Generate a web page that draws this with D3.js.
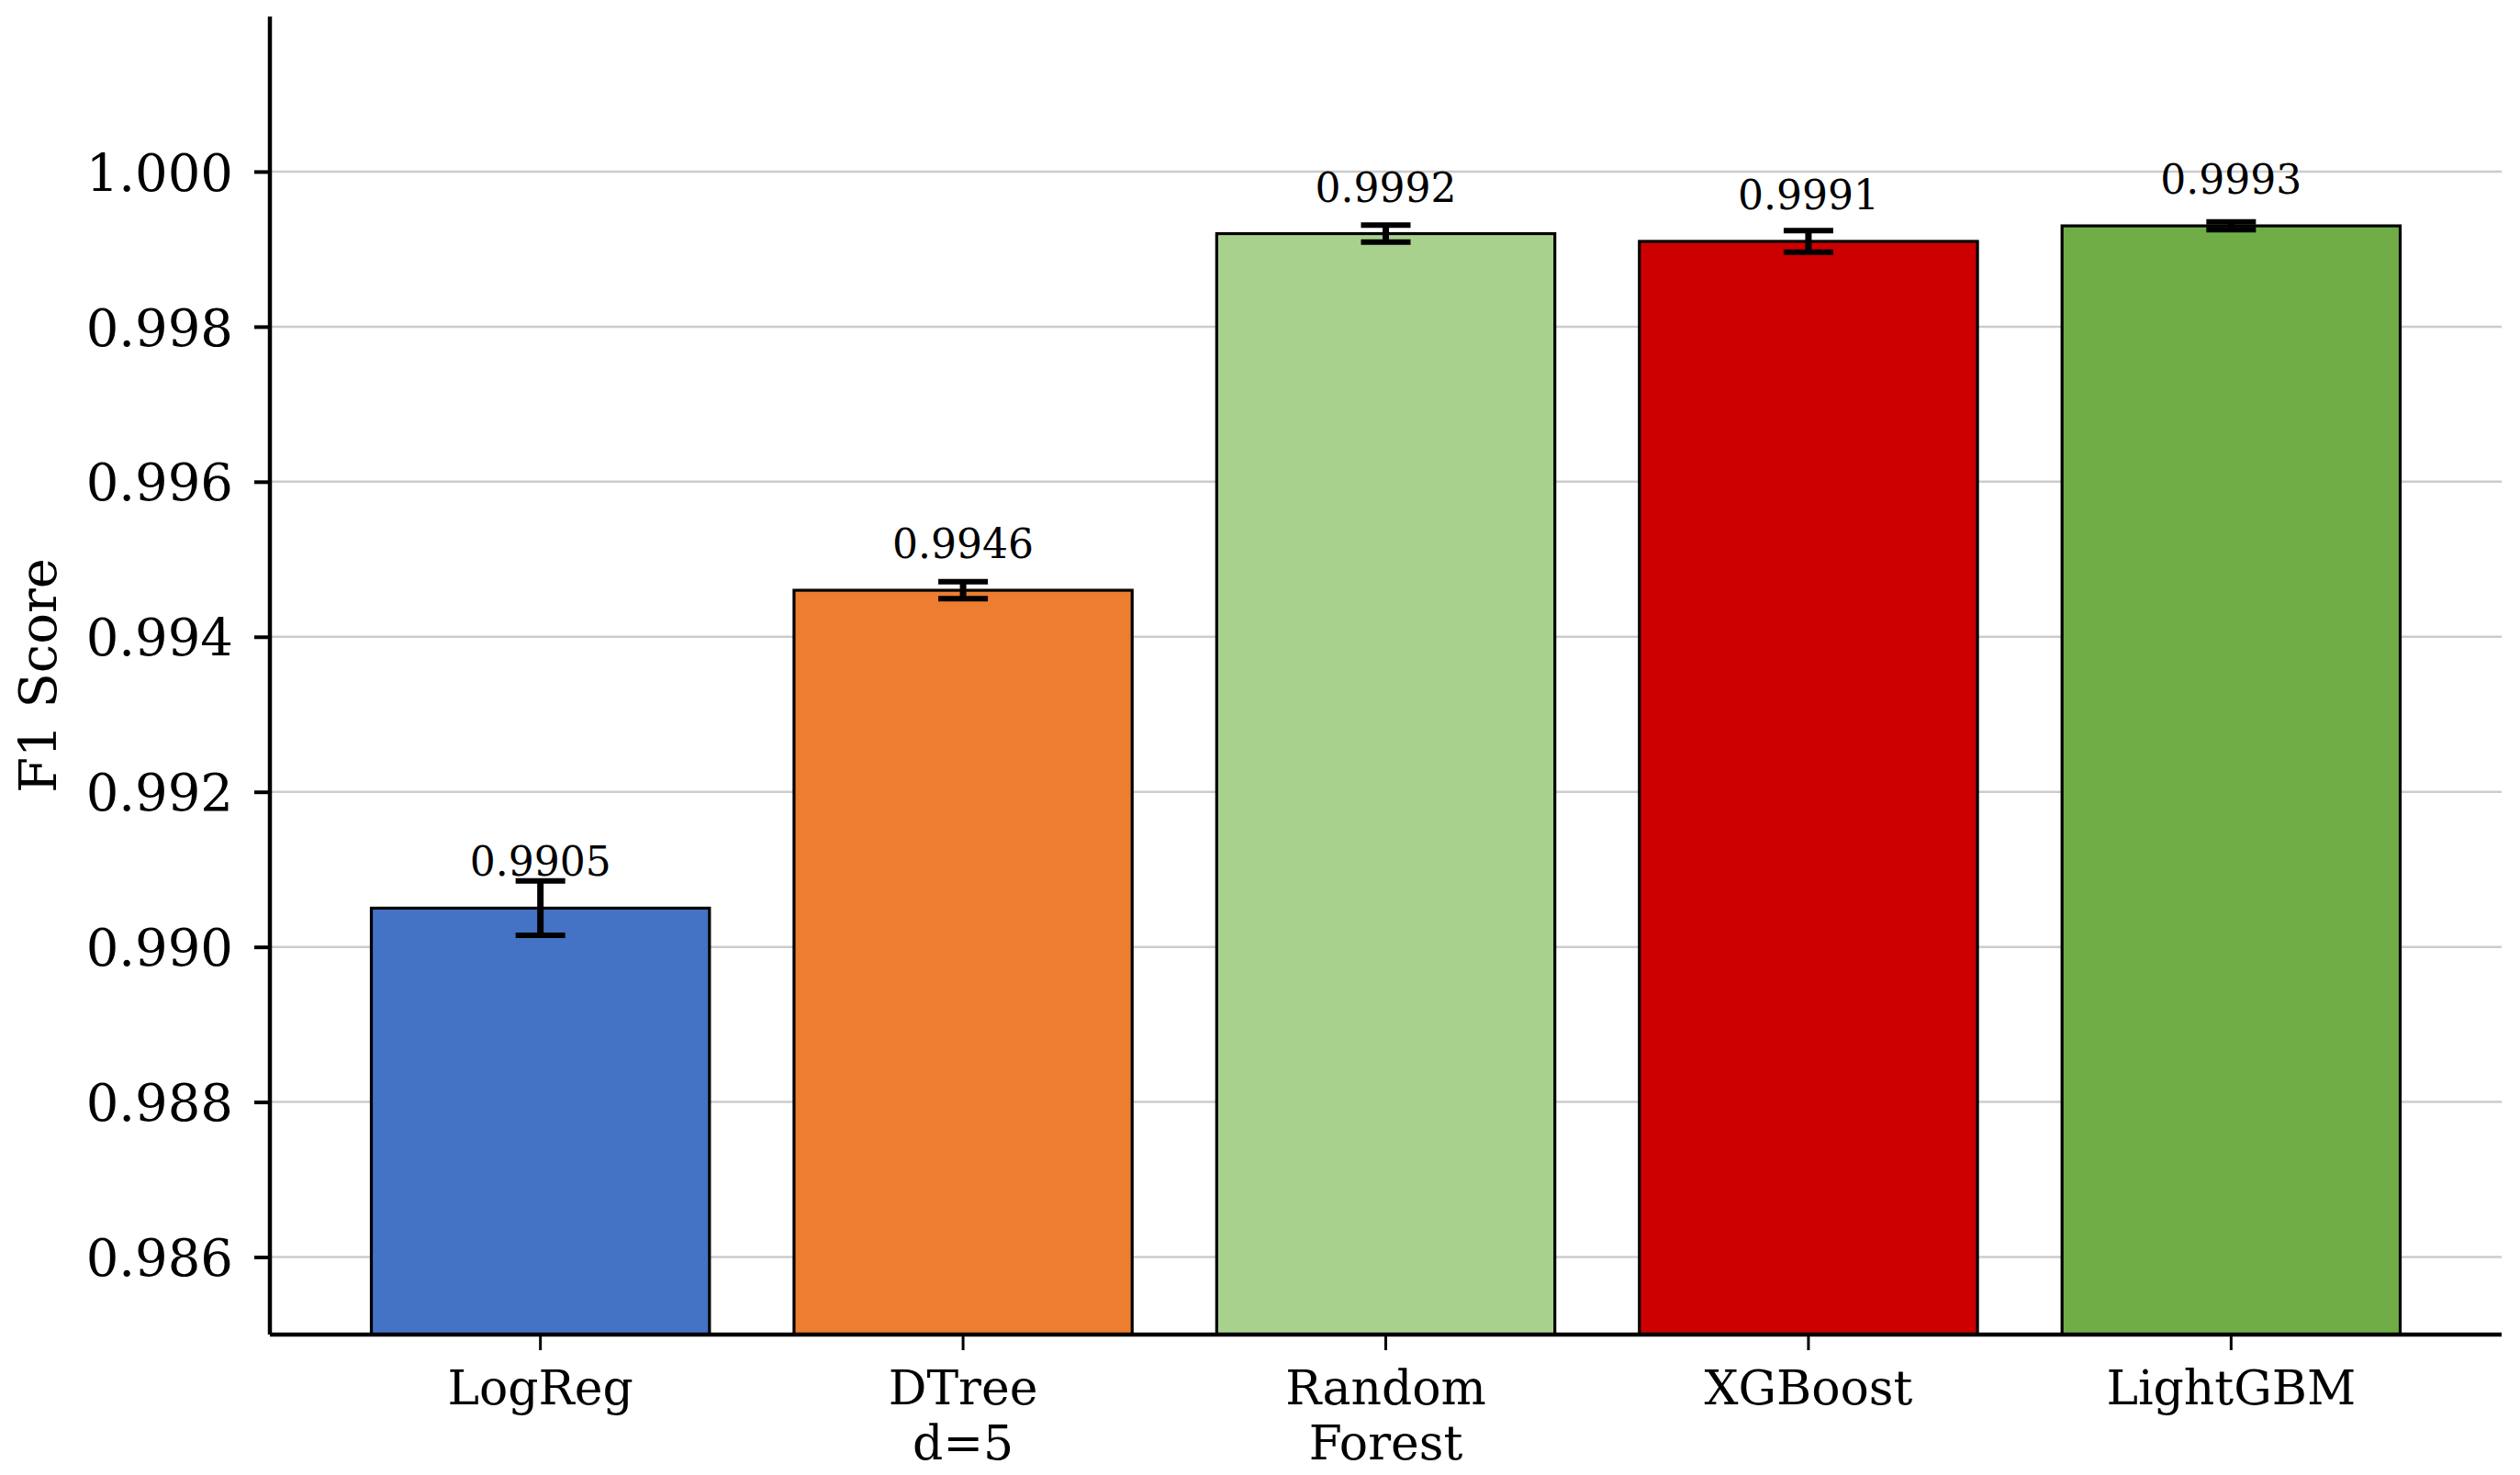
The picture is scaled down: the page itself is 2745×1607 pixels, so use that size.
<!DOCTYPE html>
<html>
<head>
<meta charset="utf-8">
<script src="https://cdn.jsdelivr.net/npm/d3@7"></script>
<style>
  body { margin: 0; background: #fff; }
  svg text { font-family: "DejaVu Serif", serif; fill: #000; }
</style>
</head>
<body>
<svg id="chart"></svg>
<script>
// data
var models = ['LogReg', 'DTree\nd=5', 'Random\nForest', 'XGBoost', 'LightGBM'];
var f1_mean = [0.9905, 0.9946, 0.9992, 0.9991, 0.9993];
var f1_std = [0.00035, 0.00011, 0.00011, 0.00014, 0.00005];
var bar_colors = ['#4472C4', '#ED7D31', '#A9D18E', '#CC0000', '#70AD47'];
var y_ticks = [0.986, 0.988, 0.990, 0.992, 0.994, 0.996, 0.998, 1.000];

var width = 2745,
    height = 1607,
    margin = { top: 18, right: 20, bottom: 153, left: 294 };

var svg = d3.select('#chart')
    .attr("width", width)
    .attr("height", height)
    .append("g")
    .attr("transform", `translate(${margin.left},${margin.top})`);

var plotW = width - margin.left - margin.right,
    plotH = height - margin.top - margin.bottom;

var xScale = d3.scaleBand().domain(models).range([0, plotW]).paddingInner(0.2).paddingOuter(0.24);
var yScale = d3.scaleLinear().domain([0.985, 1.002]).range([plotH, 0]);

// grid lines
svg.append("g")
    .selectAll("line")
    .data(y_ticks)
    .enter().append("line")
    .attr("x1", 0)
    .attr("x2", plotW)
    .attr("y1", d => yScale(d))
    .attr("y2", d => yScale(d))
    .style("stroke", "#cccccc")
    .style("stroke-width", 2.5);

// bars
var bars = svg.selectAll(".model")
    .data(models)
    .enter().append("g")
    .attr("class", "model");

bars.append("rect")
    .attr("x", d => xScale(d))
    .attr("y", (d, i) => yScale(f1_mean[i]))
    .attr("width", xScale.bandwidth())
    .attr("height", (d, i) => plotH - yScale(f1_mean[i]))
    .style("fill", (d, i) => bar_colors[i])
    .style("stroke", "#000")
    .style("stroke-width", 3.2);

// error bars
var cx = d => xScale(d) + xScale.bandwidth() / 2;
bars.append("line")
    .attr("x1", cx).attr("x2", cx)
    .attr("y1", (d, i) => yScale(f1_mean[i] + f1_std[i]))
    .attr("y2", (d, i) => yScale(f1_mean[i] - f1_std[i]))
    .style("stroke", "#000")
    .style("stroke-width", 7);
[1, -1].forEach(function (s) {
    bars.append("line")
        .attr("x1", d => cx(d) - 27).attr("x2", d => cx(d) + 27)
        .attr("y1", (d, i) => yScale(f1_mean[i] + s * f1_std[i]))
        .attr("y2", (d, i) => yScale(f1_mean[i] + s * f1_std[i]))
        .style("stroke", "#000")
        .style("stroke-width", 6);
});

// value labels
bars.append("text")
    .attr("x", cx)
    .attr("y", (d, i) => yScale(f1_mean[i]) - 35)
    .attr("text-anchor", "middle")
    .style("font-size", "44px")
    .text((d, i) => f1_mean[i].toFixed(4));

// Y axis
var yAxis = d3.axisLeft(yScale).tickValues(y_ticks).tickFormat(d3.format(".3f")).tickSize(17).tickSizeOuter(0);
var yAxisGroup = svg.append("g").call(yAxis);
yAxisGroup.select(".domain").style("stroke", "#000").style("stroke-width", 4.5).attr("d", `M0,0V${plotH}`);
yAxisGroup.selectAll(".tick line").style("stroke-width", 4);
yAxisGroup.selectAll(".tick text").attr("x", -40).style("font-size", "56px").attr("dy", "0.36em");

// X axis
var xAxis = d3.axisBottom(xScale).tickSize(17).tickSizeOuter(0).tickFormat("");
var xAxisGroup = svg.append("g")
    .attr("transform", `translate(0,${plotH})`)
    .call(xAxis);
xAxisGroup.select(".domain").style("stroke", "#000").style("stroke-width", 4.5).attr("d", `M0,0H${plotW}`);
xAxisGroup.selectAll(".tick line").style("stroke-width", 3);
xAxisGroup.selectAll(".tick").each(function (d) {
    var lines = d.split('\n');
    var t = d3.select(this).append("text")
        .attr("text-anchor", "middle")
        .style("font-size", "52px");
    lines.forEach(function (l, k) {
        t.append("tspan").attr("x", 0).attr("y", 76 + k * 60).text(l);
    });
});

// Y label
svg.append("text")
    .attr("transform", `translate(${61 - margin.left},${736 - margin.top}) rotate(-90)`)
    .attr("text-anchor", "middle")
    .style("font-size", "56px")
    .text("F1 Score");
</script>
</body>
</html>
